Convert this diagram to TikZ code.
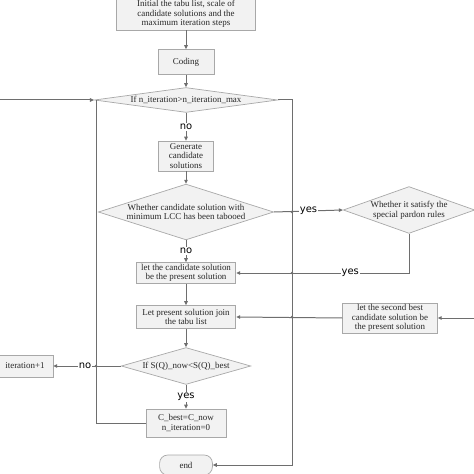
\documentclass[tikz,border=0pt]{standalone}
\usepackage{fontspec}
\setmainfont{Liberation Serif}
\newfontfamily\lblfont{DejaVu Sans}
\usetikzlibrary{shapes.geometric,arrows.meta}
\definecolor{boxfill}{HTML}{F2F2F2}
\definecolor{boxline}{HTML}{A8A8A8}
\definecolor{lncol}{HTML}{6E6E6E}
\definecolor{txtcol}{HTML}{282828}
\begin{document}
\begin{tikzpicture}[x=1bp,y=-1bp,
  box/.style={draw=boxline, fill=boxfill, line width=0.7pt, inner sep=0.5pt, align=center,
    text=txtcol, font=\fontsize{9}{9.6}\selectfont},
  dia/.style={diamond, draw=boxline, fill=boxfill, line width=0.7pt, inner sep=0pt},
  dtext/.style={align=center, text=txtcol, inner sep=0pt, font=\fontsize{9}{9.8}\selectfont},
  ln/.style={draw=lncol, line width=1pt},
  arr/.style={ln, -{Triangle[length=4bp,width=3.5bp]}},
  lbl/.style={font=\lblfont\fontsize{10}{11}\selectfont, fill=white, inner sep=1pt, text=black},
  jdot/.style={fill=lncol}]
\useasboundingbox (0,0) rectangle (474,474);
% nodes
\node[box, minimum width=140, minimum height=32] (init) at (186,14)
  {Initial the tabu list, scale of\\candidate solutions and the\\maximum iteration steps};
\node[box, minimum width=56, minimum height=25] (coding) at (186,62) {Coding};
\node[dia, minimum width=184, minimum height=25] (d1) at (186,100) {};
\node[dtext] at (d1) {If n\_iteration>n\_iteration\_max};
\node[box, minimum width=55, minimum height=30] (gen) at (186,156) {Generate\\candidate\\solutions};
\node[dia, minimum width=176, minimum height=56] (d2) at (186,212) {};
\node[dtext] at (d2) {Whether candidate solution with\\minimum LCC has been tabooed};
\node[box, minimum width=100, minimum height=21] (b3) at (186,273) {let the candidate solution\\be the present solution};
\node[box, minimum width=100, minimum height=23] (b4) at (186,317) {Let present solution join\\the tabu list};
\node[dia, minimum width=130, minimum height=37] (d3) at (186,366) {};
\node[dtext] at (d3) {If S(Q)\_now<S(Q)\_best};
\node[box, minimum width=80, minimum height=28] (cb) at (186,423) {C\_best=C\_now\\n\_iteration=0};
\node[box, rounded corners=8bp, minimum width=53, minimum height=20] (end) at (186,465) {end};
\node[box, minimum width=56, minimum height=22] (it) at (25,366) {iteration+1};
\node[dia, minimum width=132, minimum height=47] (d4) at (409,210) {};
\node[dtext] at (d4) {Whether it satisfy the\\special pardon rules};
\node[box, minimum width=95, minimum height=30] (b5) at (390,318) {let the second best\\candidate solution be\\the present solution};
% helper coordinates
\coordinate (rc) at (292,0);
\coordinate (lc) at (96,0);
\coordinate (inL) at (-2,100);
\coordinate (inR) at (476,318);
% connectors
\draw[arr] (init) -- (coding);
\draw[arr] (coding) -- (d1);
\draw[arr] (d1) -- node[lbl]{no} (gen);
\draw[arr] (gen) -- (d2);
\draw[arr] (d2) -- node[lbl]{no} (b3);
\draw[arr] (b3) -- (b4);
\draw[arr] (b4) -- (d3);
\draw[arr] (d3) -- node[lbl]{yes} (cb);
\draw[ln] (cb.west) -| (lc |- d1.west);
\draw[arr] (inL) -- (d1.west);
\draw[arr] (d3.west) -- node[lbl, pos=0.53]{no} (it.east);
\draw[arr] (d1.east) -| (rc |- end.east) -- (end.east);
\draw[arr] (d2.east) -- node[lbl]{yes} (d4.west);
\draw[arr] (d4.south) |- node[lbl, pos=0.67]{yes} (b3.east);
\draw[arr] (inR) -- (b5.east);
\draw[arr] (b5.west) -- (b4.east);
% junction dots
\fill[jdot] (rc |- d2.east) circle (1.3);
\fill[jdot] (rc |- b3.east) circle (1.3);
\fill[jdot] (rc |- b4.east) circle (1.3);
\fill[jdot] (lc |- d3.west) circle (1.3);
\end{tikzpicture}
\end{document}
